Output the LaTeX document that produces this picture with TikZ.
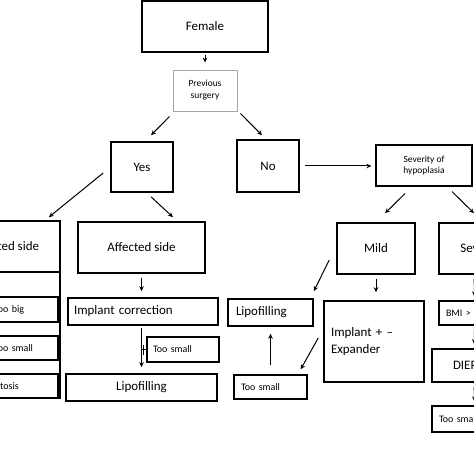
\documentclass[tikz,border=0pt]{standalone}
\usepackage{fontspec}
\setmainfont{Carlito}
\usepackage{tikz}
\usetikzlibrary{shapes, arrows.meta, positioning, calc}

\begin{document}
\begin{tikzpicture}[x=1bp, y=-1bp, >={Stealth[length=5bp,width=4.5bp]}]
        \tikzset{
            mainbox/.style={rectangle, draw, line width=1.6bp, inner sep=0pt, align=center, font=\fontsize{13}{16}\selectfont},
            thinbox/.style={rectangle, draw, line width=0.9bp, inner sep=0pt, align=center, font=\fontsize{9.5}{12}\selectfont},
            leftbox/.style={mainbox, align=left},
            smallleft/.style={thinbox, line width=1.3bp, align=left, font=\fontsize{10}{12}\selectfont},
            link/.style={->, line width=1bp}
        }
        \useasboundingbox (0,0) rectangle (474,474);
        \clip (0,0) rectangle (474,474);

        % top of the tree
        \node[mainbox, line width=2.2bp, minimum width=126bp, minimum height=51bp] (female) at (205,26.5) {Female};
        \node[thinbox, draw=gray!70, minimum width=64bp, minimum height=41bp] (prev) at (205,90.5) {Previous\\surgery};
        \node[mainbox, minimum width=62bp, minimum height=50bp] (yes) at (142,167) {Yes};
        \node[mainbox, minimum width=62bp, minimum height=52bp] (no) at (268,166) {No};
        \node[thinbox, line width=1.1bp, minimum width=96bp, minimum height=41bp] (sev) at (424,165.5) {Severity of\\hypoplasia};

        % previous surgery: yes
        \node[mainbox, minimum width=126bp, minimum height=177bp] (unaffgrp) at (-3,309.5) {};
        \node[mainbox, minimum width=130bp, minimum height=51bp] (unaff) at (-5,246.5) {\hspace*{6bp}Unaffected side};
        \node[smallleft, minimum width=70bp, text width=58bp, minimum height=25bp] (toobig) at (23,309.5) {Too big};
        \node[smallleft, minimum width=70bp, text width=58bp, minimum height=24bp] (toosmall0) at (23,348) {Too small};
        \node[smallleft, minimum width=70bp, text width=56bp, minimum height=24bp] (ptosis) at (23,386) {Ptosis};

        \node[mainbox, minimum width=127bp, minimum height=51bp] (aff) at (141.5,247.5) {Affected side};
        \node[leftbox, minimum width=150bp, text width=138bp, minimum height=27bp] (implc) at (143,311.5) {Implant correction};
        \node[smallleft, minimum width=72bp, text width=60bp, minimum height=25bp] (toosmall1) at (183,349.5) {Too small};
        \node[mainbox, minimum width=151bp, minimum height=27bp] (lipo1) at (141.5,387.5) {Lipofilling};

        % previous surgery: no
        \node[mainbox, minimum width=78bp, minimum height=51bp] (mild) at (376,248.5) {Mild};
        \node[mainbox, minimum width=78bp, minimum height=51bp] (severe) at (478,248.5) {Severe};
        \node[leftbox, minimum width=85bp, text width=69bp, minimum height=27bp] (lipo2) at (270.5,312.5) {Lipofilling};
        \node[leftbox, font=\fontsize{13}{17}\selectfont, minimum width=100bp, text width=86bp, minimum height=81bp] (impexp) at (374,341.5) {Implant + --\\Expander};
        \node[smallleft, minimum width=81bp, text width=67bp, minimum height=24bp] (bmi) at (479.5,313) {BMI >};
        \node[smallleft, minimum width=73bp, text width=59bp, minimum height=24bp] (toosmall2) at (270.5,387) {Too small};
        \node[leftbox, minimum width=66bp, text width=24bp, minimum height=33bp] (diep) at (465,365.5) {DIEP};
        \node[smallleft, minimum width=80bp, text width=66bp, minimum height=26bp] (toosmall3) at (472,419) {Too small};

        \draw[link, shorten <=2bp, shorten >=7bp] (female.south) -- (prev.north);
        \draw[link] ($(prev.south west)+(-3,5)$) -- ($(yes.north)+(9,-6)$);
        \draw[link] ($(prev.south east)+(3,2)$) -- ($(no.north)+(-6,-4)$);
        \draw[link, shorten <=5bp, shorten >=4bp] (no.east) -- (sev.west |- no.east);
        \draw[link] ($(sev.south)+(-19,7)$) -- ($(mild.north)+(9,-9)$);
        \draw[link] ($(sev.south)+(28,5)$) -- ($(severe.north)+(-4,-9)$);

        \draw[link] ($(yes.west)+(-7,6)$) -- ($(unaff.north east)+(-12,-3)$);
        \draw[link] ($(yes.south)+(9,4)$) -- ($(aff.north)+(31.5,-4)$);
        \draw[link, shorten <=4bp, shorten >=6bp] (aff.south) -- (aff.south |- implc.north);
        \draw[link, shorten <=2bp, shorten >=6bp] (lipo1.north |- implc.south) -- (lipo1.north);
        \draw[line width=1bp] (toosmall1.west) -- (lipo1.north |- toosmall1.west);
        \draw[line width=1bp] ($(toosmall1.west)+(-3,-5)$) -- ($(toosmall1.west)+(-3,5)$);

        \draw[link] ($(mild.west)+(-7,11.5)$) -- ($(lipo2.north east)+(0,-7)$);
        \draw[link, shorten <=4bp, shorten >=8bp] (mild.south) -- (mild.south |- impexp.north);
        \draw[link] ($(impexp.west)+(-5,-3.5)$) -- ($(toosmall2.north east)+(-7,-5)$);
        \draw[link, shorten <=9bp, shorten >=7bp] (toosmall2.north) -- (toosmall2.north |- lipo2.south);
        \draw[link] ($(severe.south west)+(36,4)$) -- ($(bmi.north west)+(36,-4)$);
        \draw[link] ($(bmi.south west)+(36,4)$) -- ($(diep.north west)+(43,-4)$);
        \draw[link] ($(diep.south west)+(43,4)$) -- ($(toosmall3.north west)+(43,-4)$);

    \end{tikzpicture}
\end{document}
